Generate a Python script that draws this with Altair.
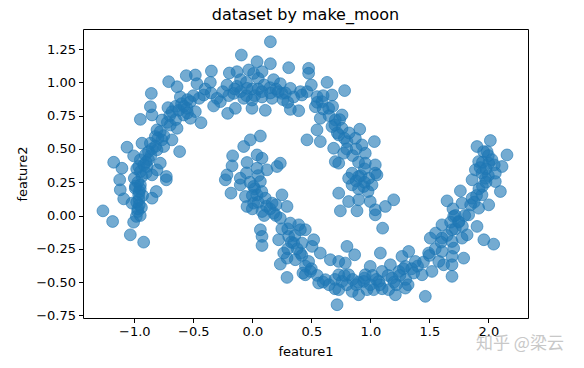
import altair as alt
import pandas as pd

# ---- data (feature1, feature2) ----
outer_x = [0.153, -0.093, 0.04, 0.153, 0.308, -0.347, -0.483, -0.56, -0.195, -0.13, -0.031, -0.709, -0.638, -0.469,
           -0.356, -0.215, -0.13, -0.045, 0.011, 0.082, 0.18, 0.237, 0.322, 0.407, -0.856, -0.61, -0.525, -0.412,
           -0.3, -0.271, -0.328, -0.158, -0.073, -0.003, 0.082, 0.167, 0.153, 0.251, 0.35, 0.42, -0.864, -0.715,
           -0.624, -0.554, -0.483, -0.144, -0.003, 0.11, 0.322, 0.393, -0.209, -0.949, -0.85, -0.766, -0.582,
           -0.525, -0.435, -0.695, -0.638, -0.808, -0.822, -0.766, -0.681, -0.864, -0.935, -1.062, -0.751, -0.616,
           -1.006, -0.907, -0.808, -1.175, -1.105, -0.949, -0.963, -0.893, -0.78, -0.949, -0.808, -0.729,
           0.477, 0.477, 0.633, 0.782, 0.463, 0.548, 0.675, 0.59, 0.534, 0.647, 0.76, 0.576, 0.703, 0.675, 0.548,
           0.76, 0.91, 0.463, 0.576, 0.732, 0.802, 0.873, 1.034, 0.929, 0.689, 0.774, 0.957, 0.732, 0.703, 1.042,
           0.957, 0.845, 1.042,
           0.816, 0.901, 0.986, 1.056, 0.845, 0.944, 1.014, 0.732, 0.816, 0.901, 0.999, 1.127, 1.198, 0.746, 0.887,
           1.042, 1.042, 1.104,
           -1.124, -0.935, -0.85, -0.729, -1.119, -0.992, -0.949, -1.09, -0.963, -0.814, -0.85, -1.02, -0.958,
           -1.266, -1.184, -0.972, -0.983, -1.006, -1.034, -0.921,
           -0.1, 0.05, 0.2, -0.05, 0.1, 0.28, -0.25, -0.4, 0.02, 0.3,
           -0.6, -0.55, -0.65, -0.7, -0.78, -0.8, -0.85, -0.88, -0.9, -0.5,
           -0.97, -0.95, -0.96, -0.97, -0.95, -0.98, -1.0, -0.93,
           0.55, 0.6, 0.65, 0.7, 0.72, 0.8, 0.85, 0.9, 0.88, 0.95, 0.92,
           -0.05, 0.0, 0.08, 0.15, 0.22, -0.15, -0.2, -0.35, -0.45, -0.1, 0.05, 0.26,
           -0.65, -0.72, -0.68, -0.75, -0.82, -0.88, -0.92, -0.9, -0.86, -0.58, -0.55,
           -0.96, -0.98, -0.94, -0.99,
           0.5, 0.6, 0.68, 0.74, 0.78, 0.82, 0.88, 0.95, 0.9, 0.98]
outer_y = [1.305, 1.205, 1.155, 1.14, 1.11, 1.085, 1.055, 1.05, 1.07, 1.08, 1.093, 1.005, 0.967, 0.99,
           1.0, 0.98, 0.97, 0.955, 1.067, 1.08, 1.02, 0.99, 0.955, 0.93, 0.917, 0.89, 0.855, 0.905,
           0.88, 0.855, 0.823, 0.917, 0.88, 0.867, 0.89, 0.88, 0.92, 0.917, 0.89, 0.905, 0.817, 0.81,
           0.79, 0.805, 0.78, 0.805, 0.805, 0.79, 0.797, 0.787, 0.767, 0.722, 0.755, 0.717, 0.755,
           0.73, 0.697, 0.68, 0.655, 0.643, 0.593, 0.568, 0.568, 0.543, 0.543, 0.513, 0.518, 0.48,
           0.448, 0.455, 0.493, 0.4, 0.355, 0.418, 0.368, 0.368, 0.393, 0.33, 0.343, 0.293,
           1.105, 1.068, 1.0, 0.938, 0.93, 0.893, 0.905, 0.855, 0.817, 0.805, 0.755, 0.73, 0.718, 0.668, 0.643,
           0.655, 0.648, 0.568, 0.555, 0.605, 0.555, 0.58, 0.555, 0.53, 0.505, 0.468, 0.468, 0.393, 0.405, 0.38,
           0.393, 0.318, 0.318,
           0.28, 0.293, 0.28, 0.305, 0.23, 0.218, 0.23, 0.168, 0.105, 0.118, 0.105, 0.068, 0.118, 0.035, 0.035,
           0.043, 0.005, -0.095,
           0.268, 0.293, 0.305, 0.268, 0.193, 0.205, 0.23, 0.125, 0.155, 0.18, 0.13, 0.093, 0.08,
           0.035, -0.045, 0.03, -0.007, -0.05, -0.145, -0.2,
           0.93, 0.95, 0.95, 1.0, 0.98, 0.92, 0.93, 0.95, 0.9, 0.85,
           0.84, 0.87, 0.82, 0.75, 0.63, 0.58, 0.5, 0.42, 0.4, 0.9,
           0.25, 0.2, 0.12, 0.05, 0.0, 0.35, 0.28, 0.15,
           0.85, 0.8, 0.75, 0.68, 0.62, 0.5, 0.45, 0.4, 0.26, 0.25, 0.3,
           0.9, 0.95, 0.93, 0.96, 0.93, 0.95, 0.9, 0.92, 0.88, 1.02, 1.03, 0.87,
           0.72, 0.7, 0.78, 0.6, 0.52, 0.48, 0.38, 0.32, 0.45, 0.82, 0.77,
           0.18, 0.1, 0.06, 0.22,
           0.98, 0.9, 0.82, 0.72, 0.58, 0.62, 0.5, 0.35, 0.2, 0.18]

inner_x = [0.068, -0.017, -0.073, -0.167, -0.045, 0.04, 0.082, -0.172, 0.237, 0.209, 0.04, 0.124, -0.215,
           -0.229, -0.102, -0.181, -0.102, 0.011, 0.068, -0.045, -0.059, 0.04, 0.011, 0.11, 0.251, 0.167, 0.294,
           0.082, 0.181, 0.237, 0.322, 0.393, 0.407, 0.068, 0.082, 0.082, 0.223, 0.308, 0.35, 0.421, 0.266, 0.294,
           0.237, 0.294, 0.429, 0.407, 0.364,
           1.862, 1.975, 2.059, 2.102, 1.763, 1.862, 1.946, 2.003, 1.65, 1.777, 1.918, 1.833, 1.706, 1.607, 1.748,
           1.904, 1.553, 1.692, 1.82, 1.962, 2.045, 1.508, 1.607, 1.692, 1.777, 1.706, 1.607, 1.791, 1.692, 1.494,
           1.58, 1.621, 1.692, 1.692, 1.522, 1.438, 1.325, 1.268, 1.381, 1.297, 1.243, 1.367, 1.17, 1.085, 0.999,
           1.099, 1.184, 1.028, 1.155, 1.212, 1.297, 0.957, 0.944, 1.071, 1.466, 0.901, 0.972, 0.802, 0.867, 0.788,
           0.732, 0.816, 0.76, 0.845, 0.732, 0.619, 0.562, 0.718, 0.661, 0.732, 0.576, 0.506, 0.52, 0.449, 0.477,
           0.492, 0.449,
           1.904, 2.017, 1.989, 2.158, 1.918, 2.003, 2.116, 1.89, 1.946, 2.059,
           0.0, 0.05, 0.02, 0.08, -0.02, 0.12, 0.15, 0.2,
           0.3, 0.33, 0.38, 0.42, 0.45, 0.5, 0.55, 0.6, 0.65, 0.7,
           0.9, 1.0, 1.05, 1.1, 1.2, 1.25, 1.3, 1.35, 1.4, 1.45, 0.85, 0.8,
           1.55, 1.65, 1.72, 1.75, 1.8, 1.7, 1.85, 1.9, 1.95, 2.0, 1.95, 2.0, 1.93, 2.05,
           0.05, -0.05, 0.0, 0.1, 0.2, 0.25, 0.3, 0.36,
           0.95, 1.02, 1.08, 1.15, 1.22, 1.28, 1.32, 0.88, 0.78, 0.7,
           1.5, 1.6, 1.68, 1.72, 1.78, 1.88, 1.92, 1.98, 1.98, 2.03, 1.96]
inner_y = [0.597, 0.568, 0.518, 0.448, 0.398, 0.455, 0.43, 0.373, 0.393, 0.368, 0.355, 0.343, 0.305,
           0.268, 0.28, 0.168, 0.23, 0.218, 0.255, 0.068, 0.143, 0.155, 0.093, 0.13, 0.155, 0.093, 0.068,
           0.03, 0.018, -0.02, -0.057, -0.07, -0.107, -0.107, -0.157, -0.225, -0.182, -0.157, -0.207, -0.207,
           -0.282, -0.32, -0.365, -0.465, -0.432, -0.282, -0.332,
           0.268, 0.28, 0.255, 0.18, 0.185, 0.13, 0.155, 0.08, 0.11, 0.093, 0.055, 0.005, -0.007, -0.07, -0.045,
           -0.082, -0.132, -0.107, -0.145, -0.182, -0.215, -0.17, -0.17, -0.195, -0.17, -0.245, -0.27, -0.32,
           -0.307, -0.282, -0.345, -0.37, -0.37, -0.457, -0.42, -0.445, -0.27, -0.307, -0.345, -0.382, -0.42,
           -0.432, -0.37, -0.282, -0.382, -0.42, -0.47, -0.557, -0.557, -0.595, -0.545, -0.445, -0.495, -0.495,
           -0.607, -0.595, -0.557, -0.232, -0.295, -0.357, -0.445, -0.445, -0.495, -0.57, -0.557, -0.482, -0.507,
           -0.67, -0.332, -0.345, -0.282, -0.232, -0.182, -0.107, -0.345, -0.42, -0.445,
           0.518, 0.563, 0.48, 0.455, 0.405, 0.393, 0.368, 0.343, 0.318, 0.318,
           0.15, 0.1, 0.2, 0.18, 0.25, 0.07, 0.05, 0.0,
           -0.1, -0.2, -0.25, -0.3, -0.38, -0.4, -0.45, -0.5, -0.52, -0.48,
           -0.5, -0.52, -0.48, -0.55, -0.5, -0.45, -0.48, -0.4, -0.38, -0.35, -0.48, -0.52,
           -0.25, -0.15, -0.1, -0.05, 0.0, 0.05, 0.08, 0.15, 0.22, 0.3, 0.4, 0.45, 0.36, 0.38,
           0.3, 0.32, 0.05, 0.0, 0.08, -0.1, -0.25, -0.15,
           -0.47, -0.45, -0.52, -0.45, -0.52, -0.4, -0.52, -0.52, -0.45, -0.55,
           -0.3, -0.2, -0.05, 0.0, -0.08, 0.1, 0.2, 0.25, 0.35, 0.42, 0.48]

x_ticks = [-1.0, -0.5, 0.0, 0.5, 1.0, 1.5, 2.0]
y_ticks = [-0.75, -0.5, -0.25, 0.0, 0.25, 0.5, 0.75, 1.0, 1.25]
x_domain = [-1.435, 2.336]
y_domain = [-0.7697, 1.4006]

df = pd.DataFrame({
    "feature1": outer_x + inner_x,
    "feature2": outer_y + inner_y,
})

FONT = "DejaVu Sans"
BLUE = "#1f77b4"

points = alt.Chart(df).mark_circle(
    size=140, color=BLUE, fillOpacity=0.62, stroke=BLUE, strokeOpacity=0.62, strokeWidth=1, opacity=1
).encode(
    x=alt.X("feature1:Q", scale=alt.Scale(domain=x_domain, nice=False, zero=False),
            axis=alt.Axis(values=x_ticks, format=".1f", title="feature1")),
    y=alt.Y("feature2:Q", scale=alt.Scale(domain=y_domain, nice=False, zero=False),
            axis=alt.Axis(values=y_ticks, format=".2f", title="feature2")),
)

watermark = alt.Chart(pd.DataFrame({"t": ["知乎 @梁云"]})).mark_text(
    align="left", baseline="middle", font="Noto Sans CJK SC", fontSize=17, color="#c8c8c8"
).encode(x=alt.value(393), y=alt.value(315), text="t:N")

chart = alt.layer(points, watermark).properties(
    width=445, height=289,
    title=alt.TitleParams("dataset by make_moon", font=FONT, fontSize=16, fontWeight="normal",
                          color="black", anchor="middle", offset=6),
    autosize=alt.AutoSizeParams(type="none"),
    padding={"left": 75, "top": 21, "right": 48, "bottom": 42},
).configure_view(
    stroke="black", strokeWidth=1
).configure_axis(
    grid=False, domain=False, ticks=True, tickSize=4.5, tickColor="black", tickWidth=1,
    labelFont=FONT, labelFontSize=13, labelColor="black", labelPadding=3,
    titleFont=FONT, titleFontSize=13, titleFontWeight="normal", titleColor="black",
).configure_axisX(titlePadding=7).configure_axisY(titlePadding=6)

chart.save("out.html", embed_options={"renderer": "svg", "actions": False})
